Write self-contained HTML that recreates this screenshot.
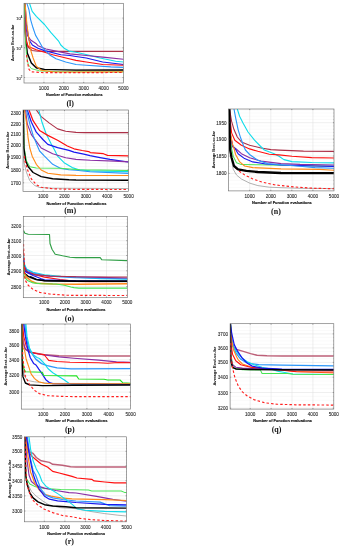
<!DOCTYPE html>
<html><head><meta charset="utf-8"><title>Convergence curves</title>
<style>
html,body{margin:0;padding:0;background:#fff;}
body{width:343px;height:550px;overflow:hidden;}
svg{display:block;filter:blur(0.3px);}
.t{font-family:"Liberation Sans",sans-serif;font-size:5px;fill:#2a2a2a;stroke:#2a2a2a;stroke-width:0.1;}
.b{font-family:"Liberation Sans",sans-serif;font-size:4.4px;font-weight:bold;fill:#141414;stroke:#141414;stroke-width:0.16;}
.c{font-family:"Liberation Serif",serif;font-size:8px;font-weight:bold;fill:#111;}
.g{stroke:#dedede;stroke-width:0.5;fill:none;}
.m{stroke:#f3f3f3;stroke-width:0.4;fill:none;}
.ax{stroke:#707070;stroke-width:0.65;fill:none;}
.k{stroke:#5a5a5a;stroke-width:0.5;fill:none;}
polyline{fill:none;stroke-linejoin:round;stroke-linecap:butt;}
</style></head><body>
<svg width="343" height="550" viewBox="0 0 343 550">
<rect x="0" y="0" width="343" height="550" fill="#ffffff"/>

<g>
<clipPath id="cp1"><rect x="24.0" y="3.3" width="99.5" height="79.7"/></clipPath>
<line class="m" x1="24.0" y1="82.1" x2="123.5" y2="82.1"/>
<line class="k" x1="123.5" y1="82.1" x2="122.9" y2="82.1" stroke-opacity="0.6"/>
<line class="m" x1="24.0" y1="80.4" x2="123.5" y2="80.4"/>
<line class="k" x1="123.5" y1="80.4" x2="122.9" y2="80.4" stroke-opacity="0.6"/>
<line class="m" x1="24.0" y1="78.9" x2="123.5" y2="78.9"/>
<line class="k" x1="123.5" y1="78.9" x2="122.9" y2="78.9" stroke-opacity="0.6"/>
<line class="m" x1="24.0" y1="68.6" x2="123.5" y2="68.6"/>
<line class="k" x1="123.5" y1="68.6" x2="122.9" y2="68.6" stroke-opacity="0.6"/>
<line class="m" x1="24.0" y1="63.3" x2="123.5" y2="63.3"/>
<line class="k" x1="123.5" y1="63.3" x2="122.9" y2="63.3" stroke-opacity="0.6"/>
<line class="m" x1="24.0" y1="59.6" x2="123.5" y2="59.6"/>
<line class="k" x1="123.5" y1="59.6" x2="122.9" y2="59.6" stroke-opacity="0.6"/>
<line class="m" x1="24.0" y1="56.7" x2="123.5" y2="56.7"/>
<line class="k" x1="123.5" y1="56.7" x2="122.9" y2="56.7" stroke-opacity="0.6"/>
<line class="m" x1="24.0" y1="54.4" x2="123.5" y2="54.4"/>
<line class="k" x1="123.5" y1="54.4" x2="122.9" y2="54.4" stroke-opacity="0.6"/>
<line class="m" x1="24.0" y1="52.4" x2="123.5" y2="52.4"/>
<line class="k" x1="123.5" y1="52.4" x2="122.9" y2="52.4" stroke-opacity="0.6"/>
<line class="m" x1="24.0" y1="50.7" x2="123.5" y2="50.7"/>
<line class="k" x1="123.5" y1="50.7" x2="122.9" y2="50.7" stroke-opacity="0.6"/>
<line class="m" x1="24.0" y1="49.2" x2="123.5" y2="49.2"/>
<line class="k" x1="123.5" y1="49.2" x2="122.9" y2="49.2" stroke-opacity="0.6"/>
<line class="m" x1="24.0" y1="38.9" x2="123.5" y2="38.9"/>
<line class="k" x1="123.5" y1="38.9" x2="122.9" y2="38.9" stroke-opacity="0.6"/>
<line class="m" x1="24.0" y1="33.6" x2="123.5" y2="33.6"/>
<line class="k" x1="123.5" y1="33.6" x2="122.9" y2="33.6" stroke-opacity="0.6"/>
<line class="m" x1="24.0" y1="29.9" x2="123.5" y2="29.9"/>
<line class="k" x1="123.5" y1="29.9" x2="122.9" y2="29.9" stroke-opacity="0.6"/>
<line class="m" x1="24.0" y1="27.0" x2="123.5" y2="27.0"/>
<line class="k" x1="123.5" y1="27.0" x2="122.9" y2="27.0" stroke-opacity="0.6"/>
<line class="m" x1="24.0" y1="24.7" x2="123.5" y2="24.7"/>
<line class="k" x1="123.5" y1="24.7" x2="122.9" y2="24.7" stroke-opacity="0.6"/>
<line class="m" x1="24.0" y1="22.7" x2="123.5" y2="22.7"/>
<line class="k" x1="123.5" y1="22.7" x2="122.9" y2="22.7" stroke-opacity="0.6"/>
<line class="m" x1="24.0" y1="21.0" x2="123.5" y2="21.0"/>
<line class="k" x1="123.5" y1="21.0" x2="122.9" y2="21.0" stroke-opacity="0.6"/>
<line class="m" x1="24.0" y1="19.5" x2="123.5" y2="19.5"/>
<line class="k" x1="123.5" y1="19.5" x2="122.9" y2="19.5" stroke-opacity="0.6"/>
<line class="m" x1="24.0" y1="9.2" x2="123.5" y2="9.2"/>
<line class="k" x1="123.5" y1="9.2" x2="122.9" y2="9.2" stroke-opacity="0.6"/>
<line class="g" x1="43.9" y1="3.3" x2="43.9" y2="83.0"/>
<line class="g" x1="63.8" y1="3.3" x2="63.8" y2="83.0"/>
<line class="g" x1="83.7" y1="3.3" x2="83.7" y2="83.0"/>
<line class="g" x1="103.6" y1="3.3" x2="103.6" y2="83.0"/>
<line class="g" x1="24.0" y1="18.1" x2="123.5" y2="18.1"/>
<line class="g" x1="24.0" y1="47.8" x2="123.5" y2="47.8"/>
<line class="g" x1="24.0" y1="77.5" x2="123.5" y2="77.5"/>
<g clip-path="url(#cp1)">
<polyline stroke="#8a8a8a" stroke-width="0.67" points="24.3,3.0 25.0,30.0 27.5,55.0 31.5,64.0 36.5,68.5 45.0,69.8 123.5,70.2"/>
<polyline stroke="#000000" stroke-width="1.38" points="24.4,3.0 25.0,25.0 25.8,40.0 27.3,53.0 31.4,62.9 36.3,67.8 44.5,69.4 76.0,70.1 123.5,70.0"/>
<polyline stroke="#ac3048" stroke-width="1.12" points="24.5,3.0 25.0,20.0 26.0,38.0 28.0,47.0 32.0,50.5 38.0,51.3 50.0,51.4 123.5,51.4"/>
<polyline stroke="#10dcea" stroke-width="1.12" points="29.5,3.3 32.2,11.4 36.3,16.3 44.5,24.5 51.0,32.7 58.4,40.8 60.8,45.0 64.1,48.2 69.0,51.1 76.0,52.3 86.0,54.5 100.0,58.0 115.7,61.2 123.5,62.0"/>
<polyline stroke="#8a2ea4" stroke-width="1.12" points="24.6,3.0 25.5,25.0 27.3,35.1 30.6,40.0 36.3,43.8 38.0,45.7 46.0,49.0 56.0,51.1 70.0,53.9 86.3,55.5 102.7,57.1 123.5,59.3"/>
<polyline stroke="#1818f0" stroke-width="1.12" points="25.0,3.0 26.5,25.0 29.0,40.0 32.3,44.9 38.0,48.2 44.5,50.6 60.8,54.7 70.0,55.5 76.0,56.5 86.3,58.0 102.7,62.0 123.5,64.5"/>
<polyline stroke="#ff1010" stroke-width="1.12" points="24.5,3.0 25.0,25.0 25.8,40.0 28.2,46.5 36.3,49.8 52.7,54.7 69.0,58.8 76.0,60.4 86.3,62.0 102.7,64.5 123.5,65.3"/>
<polyline stroke="#2c96fa" stroke-width="1.12" points="26.9,3.3 29.0,9.8 30.6,19.6 33.0,27.8 35.5,35.1 38.8,40.8 43.0,48.2 49.4,54.7 56.0,58.8 65.7,62.0 76.0,64.5 86.3,65.3 110.8,66.9 123.5,67.4"/>
<polyline stroke="#48e455" stroke-width="0.9" points="24.3,3.0 24.8,30.0 26.5,54.7 28.2,64.5 31.4,68.6 39.6,70.9 60.0,71.8 123.5,72.0"/>
<polyline stroke="#ff8a18" stroke-width="1.12" points="25.0,3.0 27.0,25.0 29.0,40.0 30.6,49.8 33.1,58.0 36.3,66.1 41.2,70.2 52.7,71.8 76.0,72.0 123.5,71.8"/>
<polyline stroke="#ff2020" stroke-width="1.16" stroke-dasharray="2.5 2.1" points="26.6,55.0 27.3,61.2 29.0,69.4 31.4,71.8 44.5,72.7 123.5,72.5"/>
</g>
<rect class="ax" x="24.0" y="3.3" width="99.5" height="79.7"/>
<line class="k" x1="43.9" y1="83.0" x2="43.9" y2="81.9"/>
<line class="k" x1="43.9" y1="3.3" x2="43.9" y2="4.4"/>
<text class="t" text-anchor="middle" x="43.9" y="89.8" textLength="10.3" lengthAdjust="spacingAndGlyphs">1000</text>
<line class="k" x1="63.8" y1="83.0" x2="63.8" y2="81.9"/>
<line class="k" x1="63.8" y1="3.3" x2="63.8" y2="4.4"/>
<text class="t" text-anchor="middle" x="63.8" y="89.8" textLength="10.3" lengthAdjust="spacingAndGlyphs">2000</text>
<line class="k" x1="83.7" y1="83.0" x2="83.7" y2="81.9"/>
<line class="k" x1="83.7" y1="3.3" x2="83.7" y2="4.4"/>
<text class="t" text-anchor="middle" x="83.7" y="89.8" textLength="10.3" lengthAdjust="spacingAndGlyphs">3000</text>
<line class="k" x1="103.6" y1="83.0" x2="103.6" y2="81.9"/>
<line class="k" x1="103.6" y1="3.3" x2="103.6" y2="4.4"/>
<text class="t" text-anchor="middle" x="103.6" y="89.8" textLength="10.3" lengthAdjust="spacingAndGlyphs">4000</text>
<text class="t" text-anchor="middle" x="123.5" y="89.8" textLength="10.3" lengthAdjust="spacingAndGlyphs">5000</text>
<line class="k" x1="24.0" y1="18.1" x2="25.1" y2="18.1"/>
<line class="k" x1="123.5" y1="18.1" x2="122.4" y2="18.1"/>
<text class="t" style="font-size:3.9px" x="16.3" y="20.1">10<tspan dy="-1.9" style="font-size:2.8px">4</tspan></text>
<line class="k" x1="24.0" y1="47.8" x2="25.1" y2="47.8"/>
<line class="k" x1="123.5" y1="47.8" x2="122.4" y2="47.8"/>
<text class="t" style="font-size:3.9px" x="16.3" y="49.8">10<tspan dy="-1.9" style="font-size:2.8px">3</tspan></text>
<line class="k" x1="24.0" y1="77.5" x2="25.1" y2="77.5"/>
<line class="k" x1="123.5" y1="77.5" x2="122.4" y2="77.5"/>
<text class="t" style="font-size:3.9px" x="16.3" y="79.5">10<tspan dy="-1.9" style="font-size:2.8px">2</tspan></text>
<text class="b" text-anchor="middle" x="74.3" y="96.0" textLength="56.4" lengthAdjust="spacingAndGlyphs">Number of Function evaluations</text>
<text class="b" style="stroke-width:0.04" text-anchor="middle" x="14.1" y="42.8" transform="rotate(-90 14.1 42.8)" textLength="36.3" lengthAdjust="spacingAndGlyphs">Average Best-so-far</text>
<text class="c" text-anchor="middle" x="70.2" y="106.2">(l)</text>
</g>
<g>
<clipPath id="cp2"><rect x="23.0" y="110.0" width="105.6" height="81.5"/></clipPath>
<line class="m" x1="23.0" y1="189.7" x2="128.6" y2="189.7"/>
<line class="k" x1="128.6" y1="189.7" x2="128.0" y2="189.7" stroke-opacity="0.6"/>
<line class="m" x1="23.0" y1="186.2" x2="128.6" y2="186.2"/>
<line class="k" x1="128.6" y1="186.2" x2="128.0" y2="186.2" stroke-opacity="0.6"/>
<line class="m" x1="23.0" y1="179.5" x2="128.6" y2="179.5"/>
<line class="k" x1="128.6" y1="179.5" x2="128.0" y2="179.5" stroke-opacity="0.6"/>
<line class="m" x1="23.0" y1="176.2" x2="128.6" y2="176.2"/>
<line class="k" x1="128.6" y1="176.2" x2="128.0" y2="176.2" stroke-opacity="0.6"/>
<line class="m" x1="23.0" y1="172.9" x2="128.6" y2="172.9"/>
<line class="k" x1="128.6" y1="172.9" x2="128.0" y2="172.9" stroke-opacity="0.6"/>
<line class="m" x1="23.0" y1="166.5" x2="128.6" y2="166.5"/>
<line class="k" x1="128.6" y1="166.5" x2="128.0" y2="166.5" stroke-opacity="0.6"/>
<line class="m" x1="23.0" y1="163.4" x2="128.6" y2="163.4"/>
<line class="k" x1="128.6" y1="163.4" x2="128.0" y2="163.4" stroke-opacity="0.6"/>
<line class="m" x1="23.0" y1="160.3" x2="128.6" y2="160.3"/>
<line class="k" x1="128.6" y1="160.3" x2="128.0" y2="160.3" stroke-opacity="0.6"/>
<line class="m" x1="23.0" y1="154.2" x2="128.6" y2="154.2"/>
<line class="k" x1="128.6" y1="154.2" x2="128.0" y2="154.2" stroke-opacity="0.6"/>
<line class="m" x1="23.0" y1="151.3" x2="128.6" y2="151.3"/>
<line class="k" x1="128.6" y1="151.3" x2="128.0" y2="151.3" stroke-opacity="0.6"/>
<line class="m" x1="23.0" y1="148.3" x2="128.6" y2="148.3"/>
<line class="k" x1="128.6" y1="148.3" x2="128.0" y2="148.3" stroke-opacity="0.6"/>
<line class="m" x1="23.0" y1="142.6" x2="128.6" y2="142.6"/>
<line class="k" x1="128.6" y1="142.6" x2="128.0" y2="142.6" stroke-opacity="0.6"/>
<line class="m" x1="23.0" y1="139.8" x2="128.6" y2="139.8"/>
<line class="k" x1="128.6" y1="139.8" x2="128.0" y2="139.8" stroke-opacity="0.6"/>
<line class="m" x1="23.0" y1="137.0" x2="128.6" y2="137.0"/>
<line class="k" x1="128.6" y1="137.0" x2="128.0" y2="137.0" stroke-opacity="0.6"/>
<line class="m" x1="23.0" y1="131.5" x2="128.6" y2="131.5"/>
<line class="k" x1="128.6" y1="131.5" x2="128.0" y2="131.5" stroke-opacity="0.6"/>
<line class="m" x1="23.0" y1="128.8" x2="128.6" y2="128.8"/>
<line class="k" x1="128.6" y1="128.8" x2="128.0" y2="128.8" stroke-opacity="0.6"/>
<line class="m" x1="23.0" y1="126.2" x2="128.6" y2="126.2"/>
<line class="k" x1="128.6" y1="126.2" x2="128.0" y2="126.2" stroke-opacity="0.6"/>
<line class="m" x1="23.0" y1="120.9" x2="128.6" y2="120.9"/>
<line class="k" x1="128.6" y1="120.9" x2="128.0" y2="120.9" stroke-opacity="0.6"/>
<line class="m" x1="23.0" y1="118.4" x2="128.6" y2="118.4"/>
<line class="k" x1="128.6" y1="118.4" x2="128.0" y2="118.4" stroke-opacity="0.6"/>
<line class="m" x1="23.0" y1="115.8" x2="128.6" y2="115.8"/>
<line class="k" x1="128.6" y1="115.8" x2="128.0" y2="115.8" stroke-opacity="0.6"/>
<line class="m" x1="23.0" y1="110.8" x2="128.6" y2="110.8"/>
<line class="k" x1="128.6" y1="110.8" x2="128.0" y2="110.8" stroke-opacity="0.6"/>
<line class="g" x1="43.1" y1="110.0" x2="43.1" y2="191.5"/>
<line class="g" x1="64.5" y1="110.0" x2="64.5" y2="191.5"/>
<line class="g" x1="85.8" y1="110.0" x2="85.8" y2="191.5"/>
<line class="g" x1="107.2" y1="110.0" x2="107.2" y2="191.5"/>
<line class="g" x1="23.0" y1="113.3" x2="128.6" y2="113.3"/>
<line class="g" x1="23.0" y1="123.5" x2="128.6" y2="123.5"/>
<line class="g" x1="23.0" y1="134.2" x2="128.6" y2="134.2"/>
<line class="g" x1="23.0" y1="145.4" x2="128.6" y2="145.4"/>
<line class="g" x1="23.0" y1="157.2" x2="128.6" y2="157.2"/>
<line class="g" x1="23.0" y1="169.7" x2="128.6" y2="169.7"/>
<line class="g" x1="23.0" y1="182.8" x2="128.6" y2="182.8"/>
<g clip-path="url(#cp2)">
<polyline stroke="#8a8a8a" stroke-width="0.67" points="23.3,110.0 23.6,161.0 26.5,172.5 29.8,180.7 34.7,185.5 39.6,187.5 52.7,188.2 128.6,188.5"/>
<polyline stroke="#ac3048" stroke-width="1.12" points="36.3,110.0 41.2,116.6 49.4,123.1 57.6,128.9 65.7,131.3 76.0,132.4 85.0,132.6 128.6,132.6"/>
<polyline stroke="#10dcea" stroke-width="1.12" points="38.8,110.0 42.0,122.3 46.1,133.8 51.0,143.6 55.1,151.0 57.6,156.2 64.1,162.7 72.2,167.6 78.9,169.8 90.3,170.9 128.6,171.6"/>
<polyline stroke="#ff1010" stroke-width="1.23" points="29.0,110.0 33.1,120.7 39.6,130.5 47.8,135.4 57.6,140.3 67.3,146.0 74.0,148.8 82.2,150.5 88.7,151.6 90.3,152.6 103.4,153.7 107.5,155.4 128.6,155.9"/>
<polyline stroke="#1818f0" stroke-width="1.23" points="27.3,110.0 31.4,122.3 36.3,132.1 42.9,139.5 47.8,144.4 57.6,147.6 69.0,150.4 74.0,152.1 83.8,154.2 90.0,155.6 100.0,157.6 110.0,159.4 120.0,160.9 128.6,162.0"/>
<polyline stroke="#8a2ea4" stroke-width="1.12" points="25.5,110.0 27.3,124.0 31.4,134.6 38.0,143.6 41.2,148.0 52.7,153.7 65.7,157.8 76.0,159.4 90.3,160.3 114.8,161.1 128.6,161.9"/>
<polyline stroke="#2c96fa" stroke-width="1.12" points="26.5,110.0 29.8,124.0 33.1,135.4 37.1,145.2 39.6,151.0 44.5,156.2 52.7,164.3 60.8,168.4 69.0,169.7 76.0,170.3 90.0,171.8 128.6,173.4"/>
<polyline stroke="#48e455" stroke-width="1.01" points="23.5,110.0 24.2,148.0 26.5,161.0 29.8,166.8 36.3,167.9 60.0,168.3 80.0,169.8 100.0,170.1 128.6,170.6"/>
<polyline stroke="#ff8a18" stroke-width="1.12" points="24.4,110.0 26.5,122.3 28.2,138.7 29.8,148.0 32.2,156.2 36.3,164.3 41.2,170.0 47.8,173.3 60.8,174.9 76.0,175.4 128.6,175.5"/>
<polyline stroke="#000000" stroke-width="1.38" points="23.4,110.0 23.9,148.0 25.7,161.0 28.2,166.8 33.1,172.5 41.2,176.6 52.7,178.7 69.0,179.8 76.0,180.0 128.6,180.3"/>
<polyline stroke="#ff2020" stroke-width="1.16" stroke-dasharray="2.5 2.1" points="24.4,156.0 24.9,161.0 27.3,169.2 31.4,179.0 36.3,184.7 41.2,187.2 52.7,188.8 76.0,189.4 128.6,189.5"/>
</g>
<rect class="ax" x="23.0" y="110.0" width="105.6" height="81.5"/>
<line class="k" x1="43.1" y1="191.5" x2="43.1" y2="190.4"/>
<line class="k" x1="43.1" y1="110.0" x2="43.1" y2="111.1"/>
<text class="t" text-anchor="middle" x="43.1" y="198.2" textLength="10.3" lengthAdjust="spacingAndGlyphs">1000</text>
<line class="k" x1="64.5" y1="191.5" x2="64.5" y2="190.4"/>
<line class="k" x1="64.5" y1="110.0" x2="64.5" y2="111.1"/>
<text class="t" text-anchor="middle" x="64.5" y="198.2" textLength="10.3" lengthAdjust="spacingAndGlyphs">2000</text>
<line class="k" x1="85.8" y1="191.5" x2="85.8" y2="190.4"/>
<line class="k" x1="85.8" y1="110.0" x2="85.8" y2="111.1"/>
<text class="t" text-anchor="middle" x="85.8" y="198.2" textLength="10.3" lengthAdjust="spacingAndGlyphs">3000</text>
<line class="k" x1="107.2" y1="191.5" x2="107.2" y2="190.4"/>
<line class="k" x1="107.2" y1="110.0" x2="107.2" y2="111.1"/>
<text class="t" text-anchor="middle" x="107.2" y="198.2" textLength="10.3" lengthAdjust="spacingAndGlyphs">4000</text>
<text class="t" text-anchor="middle" x="128.6" y="198.2" textLength="10.3" lengthAdjust="spacingAndGlyphs">5000</text>
<line class="k" x1="23.0" y1="113.3" x2="24.1" y2="113.3"/>
<line class="k" x1="128.6" y1="113.3" x2="127.5" y2="113.3"/>
<text class="t" text-anchor="end" x="20.9" y="115.3" textLength="10.2" lengthAdjust="spacingAndGlyphs">2300</text>
<line class="k" x1="23.0" y1="123.5" x2="24.1" y2="123.5"/>
<line class="k" x1="128.6" y1="123.5" x2="127.5" y2="123.5"/>
<text class="t" text-anchor="end" x="20.9" y="125.5" textLength="10.2" lengthAdjust="spacingAndGlyphs">2200</text>
<line class="k" x1="23.0" y1="134.2" x2="24.1" y2="134.2"/>
<line class="k" x1="128.6" y1="134.2" x2="127.5" y2="134.2"/>
<text class="t" text-anchor="end" x="20.9" y="136.2" textLength="10.2" lengthAdjust="spacingAndGlyphs">2100</text>
<line class="k" x1="23.0" y1="145.4" x2="24.1" y2="145.4"/>
<line class="k" x1="128.6" y1="145.4" x2="127.5" y2="145.4"/>
<text class="t" text-anchor="end" x="20.9" y="147.4" textLength="10.2" lengthAdjust="spacingAndGlyphs">2000</text>
<line class="k" x1="23.0" y1="157.2" x2="24.1" y2="157.2"/>
<line class="k" x1="128.6" y1="157.2" x2="127.5" y2="157.2"/>
<text class="t" text-anchor="end" x="20.9" y="159.2" textLength="10.2" lengthAdjust="spacingAndGlyphs">1900</text>
<line class="k" x1="23.0" y1="169.7" x2="24.1" y2="169.7"/>
<line class="k" x1="128.6" y1="169.7" x2="127.5" y2="169.7"/>
<text class="t" text-anchor="end" x="20.9" y="171.7" textLength="10.2" lengthAdjust="spacingAndGlyphs">1800</text>
<line class="k" x1="23.0" y1="182.8" x2="24.1" y2="182.8"/>
<line class="k" x1="128.6" y1="182.8" x2="127.5" y2="182.8"/>
<text class="t" text-anchor="end" x="20.9" y="184.8" textLength="10.2" lengthAdjust="spacingAndGlyphs">1700</text>
<text class="b" text-anchor="middle" x="76.4" y="204.5" textLength="59.9" lengthAdjust="spacingAndGlyphs">Number of Function evaluations</text>
<text class="b" style="stroke-width:0.04" text-anchor="middle" x="9.0" y="150.3" transform="rotate(-90 9.0 150.3)" textLength="37.1" lengthAdjust="spacingAndGlyphs">Average Best-so-far</text>
<text class="c" text-anchor="middle" x="70.2" y="213.2">(m)</text>
</g>
<g>
<clipPath id="cp3"><rect x="228.6" y="109.0" width="105.4" height="81.9"/></clipPath>
<line class="m" x1="228.6" y1="187.6" x2="334.0" y2="187.6"/>
<line class="k" x1="334.0" y1="187.6" x2="333.4" y2="187.6" stroke-opacity="0.6"/>
<line class="m" x1="228.6" y1="184.0" x2="334.0" y2="184.0"/>
<line class="k" x1="334.0" y1="184.0" x2="333.4" y2="184.0" stroke-opacity="0.6"/>
<line class="m" x1="228.6" y1="180.4" x2="334.0" y2="180.4"/>
<line class="k" x1="334.0" y1="180.4" x2="333.4" y2="180.4" stroke-opacity="0.6"/>
<line class="m" x1="228.6" y1="176.9" x2="334.0" y2="176.9"/>
<line class="k" x1="334.0" y1="176.9" x2="333.4" y2="176.9" stroke-opacity="0.6"/>
<line class="m" x1="228.6" y1="169.9" x2="334.0" y2="169.9"/>
<line class="k" x1="334.0" y1="169.9" x2="333.4" y2="169.9" stroke-opacity="0.6"/>
<line class="m" x1="228.6" y1="166.4" x2="334.0" y2="166.4"/>
<line class="k" x1="334.0" y1="166.4" x2="333.4" y2="166.4" stroke-opacity="0.6"/>
<line class="m" x1="228.6" y1="162.9" x2="334.0" y2="162.9"/>
<line class="k" x1="334.0" y1="162.9" x2="333.4" y2="162.9" stroke-opacity="0.6"/>
<line class="m" x1="228.6" y1="159.5" x2="334.0" y2="159.5"/>
<line class="k" x1="334.0" y1="159.5" x2="333.4" y2="159.5" stroke-opacity="0.6"/>
<line class="m" x1="228.6" y1="152.6" x2="334.0" y2="152.6"/>
<line class="k" x1="334.0" y1="152.6" x2="333.4" y2="152.6" stroke-opacity="0.6"/>
<line class="m" x1="228.6" y1="149.2" x2="334.0" y2="149.2"/>
<line class="k" x1="334.0" y1="149.2" x2="333.4" y2="149.2" stroke-opacity="0.6"/>
<line class="m" x1="228.6" y1="145.8" x2="334.0" y2="145.8"/>
<line class="k" x1="334.0" y1="145.8" x2="333.4" y2="145.8" stroke-opacity="0.6"/>
<line class="m" x1="228.6" y1="142.5" x2="334.0" y2="142.5"/>
<line class="k" x1="334.0" y1="142.5" x2="333.4" y2="142.5" stroke-opacity="0.6"/>
<line class="m" x1="228.6" y1="135.8" x2="334.0" y2="135.8"/>
<line class="k" x1="334.0" y1="135.8" x2="333.4" y2="135.8" stroke-opacity="0.6"/>
<line class="m" x1="228.6" y1="132.5" x2="334.0" y2="132.5"/>
<line class="k" x1="334.0" y1="132.5" x2="333.4" y2="132.5" stroke-opacity="0.6"/>
<line class="m" x1="228.6" y1="129.2" x2="334.0" y2="129.2"/>
<line class="k" x1="334.0" y1="129.2" x2="333.4" y2="129.2" stroke-opacity="0.6"/>
<line class="m" x1="228.6" y1="126.0" x2="334.0" y2="126.0"/>
<line class="k" x1="334.0" y1="126.0" x2="333.4" y2="126.0" stroke-opacity="0.6"/>
<line class="m" x1="228.6" y1="119.5" x2="334.0" y2="119.5"/>
<line class="k" x1="334.0" y1="119.5" x2="333.4" y2="119.5" stroke-opacity="0.6"/>
<line class="m" x1="228.6" y1="116.2" x2="334.0" y2="116.2"/>
<line class="k" x1="334.0" y1="116.2" x2="333.4" y2="116.2" stroke-opacity="0.6"/>
<line class="m" x1="228.6" y1="113.0" x2="334.0" y2="113.0"/>
<line class="k" x1="334.0" y1="113.0" x2="333.4" y2="113.0" stroke-opacity="0.6"/>
<line class="m" x1="228.6" y1="109.8" x2="334.0" y2="109.8"/>
<line class="k" x1="334.0" y1="109.8" x2="333.4" y2="109.8" stroke-opacity="0.6"/>
<line class="g" x1="249.7" y1="109.0" x2="249.7" y2="190.9"/>
<line class="g" x1="270.8" y1="109.0" x2="270.8" y2="190.9"/>
<line class="g" x1="291.8" y1="109.0" x2="291.8" y2="190.9"/>
<line class="g" x1="312.9" y1="109.0" x2="312.9" y2="190.9"/>
<line class="g" x1="228.6" y1="122.7" x2="334.0" y2="122.7"/>
<line class="g" x1="228.6" y1="139.1" x2="334.0" y2="139.1"/>
<line class="g" x1="228.6" y1="156.0" x2="334.0" y2="156.0"/>
<line class="g" x1="228.6" y1="173.4" x2="334.0" y2="173.4"/>
<g clip-path="url(#cp3)">
<polyline stroke="#8a8a8a" stroke-width="0.67" points="229.0,109.0 229.8,150.0 233.2,169.2 236.5,175.0 241.4,179.0 249.6,183.1 257.8,185.6 269.3,187.2 281.0,187.7 300.0,188.3 334.0,188.6"/>
<polyline stroke="#ac3048" stroke-width="1.12" points="229.5,109.0 231.6,121.4 234.0,129.6 237.3,137.0 241.4,141.9 249.6,145.2 261.0,148.0 270.9,149.6 279.0,150.1 303.5,151.1 334.0,151.4"/>
<polyline stroke="#10dcea" stroke-width="1.12" points="237.3,109.0 239.7,116.5 243.0,123.0 248.0,132.0 254.5,140.2 260.2,146.0 264.3,150.0 274.2,153.7 279.0,156.3 283.9,159.6 292.0,161.6 311.7,162.5 334.0,162.9"/>
<polyline stroke="#ff1010" stroke-width="1.12" points="229.3,109.0 230.3,121.4 231.6,132.9 234.8,140.2 241.4,145.2 249.6,148.9 257.8,151.3 269.3,154.2 279.0,154.9 292.0,156.3 311.7,157.6 334.0,158.0"/>
<polyline stroke="#48e455" stroke-width="1.01" points="229.0,109.0 229.8,135.0 231.5,148.0 233.2,156.2 236.5,162.7 241.4,164.6 257.8,164.8 281.0,165.3 334.0,166.2"/>
<polyline stroke="#8a2ea4" stroke-width="1.12" points="229.2,109.0 230.5,135.0 233.2,147.6 235.6,148.5 241.4,153.7 249.6,157.8 261.0,161.1 281.0,163.6 300.0,164.4 334.0,165.0"/>
<polyline stroke="#1818f0" stroke-width="1.12" points="229.2,109.0 230.3,135.0 232.5,146.0 234.8,148.0 238.1,153.7 244.6,158.6 252.8,161.9 265.8,164.0 281.0,165.0 300.0,165.6 315.0,166.0 334.0,166.4"/>
<polyline stroke="#2c96fa" stroke-width="1.12" points="234.0,109.0 235.7,118.1 238.1,129.6 240.6,137.8 243.9,146.8 245.4,150.0 249.6,154.5 257.8,160.3 267.6,163.6 281.0,164.8 300.0,166.2 315.0,167.6 334.0,168.3"/>
<polyline stroke="#ff8a18" stroke-width="1.12" points="229.2,109.0 230.0,129.6 232.4,144.3 234.0,148.0 235.6,154.5 239.7,161.9 244.6,166.0 252.8,167.6 281.0,168.9 319.8,169.4 334.0,170.2"/>
<polyline stroke="#ff2020" stroke-width="1.16" stroke-dasharray="2.5 2.1" points="235.5,168.0 238.9,170.9 244.7,175.0 252.9,179.0 262.7,182.3 274.2,184.7 281.0,185.6 295.4,187.0 311.8,188.2 334.0,188.7"/>
<polyline stroke="#000000" stroke-width="2.3" points="229.4,109.0 229.7,135.0 230.2,150.0 231.6,157.8 234.0,166.0 238.1,169.3 246.3,170.9 257.8,172.0 281.0,173.0 334.0,173.2"/>
</g>
<rect class="ax" x="228.6" y="109.0" width="105.4" height="81.9"/>
<line class="k" x1="249.7" y1="190.9" x2="249.7" y2="189.8"/>
<line class="k" x1="249.7" y1="109.0" x2="249.7" y2="110.1"/>
<text class="t" text-anchor="middle" x="249.7" y="197.7" textLength="10.3" lengthAdjust="spacingAndGlyphs">1000</text>
<line class="k" x1="270.8" y1="190.9" x2="270.8" y2="189.8"/>
<line class="k" x1="270.8" y1="109.0" x2="270.8" y2="110.1"/>
<text class="t" text-anchor="middle" x="270.8" y="197.7" textLength="10.3" lengthAdjust="spacingAndGlyphs">2000</text>
<line class="k" x1="291.8" y1="190.9" x2="291.8" y2="189.8"/>
<line class="k" x1="291.8" y1="109.0" x2="291.8" y2="110.1"/>
<text class="t" text-anchor="middle" x="291.8" y="197.7" textLength="10.3" lengthAdjust="spacingAndGlyphs">3000</text>
<line class="k" x1="312.9" y1="190.9" x2="312.9" y2="189.8"/>
<line class="k" x1="312.9" y1="109.0" x2="312.9" y2="110.1"/>
<text class="t" text-anchor="middle" x="312.9" y="197.7" textLength="10.3" lengthAdjust="spacingAndGlyphs">4000</text>
<text class="t" text-anchor="middle" x="334.0" y="197.7" textLength="10.3" lengthAdjust="spacingAndGlyphs">5000</text>
<line class="k" x1="228.6" y1="122.7" x2="229.7" y2="122.7"/>
<line class="k" x1="334.0" y1="122.7" x2="332.9" y2="122.7"/>
<text class="t" text-anchor="end" x="226.5" y="124.7" textLength="10.2" lengthAdjust="spacingAndGlyphs">1950</text>
<line class="k" x1="228.6" y1="139.1" x2="229.7" y2="139.1"/>
<line class="k" x1="334.0" y1="139.1" x2="332.9" y2="139.1"/>
<text class="t" text-anchor="end" x="226.5" y="141.1" textLength="10.2" lengthAdjust="spacingAndGlyphs">1900</text>
<line class="k" x1="228.6" y1="156.0" x2="229.7" y2="156.0"/>
<line class="k" x1="334.0" y1="156.0" x2="332.9" y2="156.0"/>
<text class="t" text-anchor="end" x="226.5" y="158.0" textLength="10.2" lengthAdjust="spacingAndGlyphs">1850</text>
<line class="k" x1="228.6" y1="173.4" x2="229.7" y2="173.4"/>
<line class="k" x1="334.0" y1="173.4" x2="332.9" y2="173.4"/>
<text class="t" text-anchor="end" x="226.5" y="175.4" textLength="10.2" lengthAdjust="spacingAndGlyphs">1800</text>
<text class="b" text-anchor="middle" x="281.9" y="203.9" textLength="59.8" lengthAdjust="spacingAndGlyphs">Number of Function evaluations</text>
<text class="b" style="stroke-width:0.04" text-anchor="middle" x="214.8" y="149.5" transform="rotate(-90 214.8 149.5)" textLength="37.3" lengthAdjust="spacingAndGlyphs">Average Best-so-far</text>
<text class="c" text-anchor="middle" x="276.0" y="213.7">(n)</text>
</g>
<g>
<clipPath id="cp4"><rect x="23.3" y="216.5" width="104.0" height="81.2"/></clipPath>
<line class="m" x1="23.3" y1="294.7" x2="127.3" y2="294.7"/>
<line class="k" x1="127.3" y1="294.7" x2="126.7" y2="294.7" stroke-opacity="0.6"/>
<line class="m" x1="23.3" y1="290.7" x2="127.3" y2="290.7"/>
<line class="k" x1="127.3" y1="290.7" x2="126.7" y2="290.7" stroke-opacity="0.6"/>
<line class="m" x1="23.3" y1="282.6" x2="127.3" y2="282.6"/>
<line class="k" x1="127.3" y1="282.6" x2="126.7" y2="282.6" stroke-opacity="0.6"/>
<line class="m" x1="23.3" y1="278.6" x2="127.3" y2="278.6"/>
<line class="k" x1="127.3" y1="278.6" x2="126.7" y2="278.6" stroke-opacity="0.6"/>
<line class="m" x1="23.3" y1="274.7" x2="127.3" y2="274.7"/>
<line class="k" x1="127.3" y1="274.7" x2="126.7" y2="274.7" stroke-opacity="0.6"/>
<line class="m" x1="23.3" y1="266.9" x2="127.3" y2="266.9"/>
<line class="k" x1="127.3" y1="266.9" x2="126.7" y2="266.9" stroke-opacity="0.6"/>
<line class="m" x1="23.3" y1="263.1" x2="127.3" y2="263.1"/>
<line class="k" x1="127.3" y1="263.1" x2="126.7" y2="263.1" stroke-opacity="0.6"/>
<line class="m" x1="23.3" y1="259.3" x2="127.3" y2="259.3"/>
<line class="k" x1="127.3" y1="259.3" x2="126.7" y2="259.3" stroke-opacity="0.6"/>
<line class="m" x1="23.3" y1="251.8" x2="127.3" y2="251.8"/>
<line class="k" x1="127.3" y1="251.8" x2="126.7" y2="251.8" stroke-opacity="0.6"/>
<line class="m" x1="23.3" y1="248.1" x2="127.3" y2="248.1"/>
<line class="k" x1="127.3" y1="248.1" x2="126.7" y2="248.1" stroke-opacity="0.6"/>
<line class="m" x1="23.3" y1="244.4" x2="127.3" y2="244.4"/>
<line class="k" x1="127.3" y1="244.4" x2="126.7" y2="244.4" stroke-opacity="0.6"/>
<line class="m" x1="23.3" y1="237.1" x2="127.3" y2="237.1"/>
<line class="k" x1="127.3" y1="237.1" x2="126.7" y2="237.1" stroke-opacity="0.6"/>
<line class="m" x1="23.3" y1="233.5" x2="127.3" y2="233.5"/>
<line class="k" x1="127.3" y1="233.5" x2="126.7" y2="233.5" stroke-opacity="0.6"/>
<line class="m" x1="23.3" y1="229.9" x2="127.3" y2="229.9"/>
<line class="k" x1="127.3" y1="229.9" x2="126.7" y2="229.9" stroke-opacity="0.6"/>
<line class="m" x1="23.3" y1="222.9" x2="127.3" y2="222.9"/>
<line class="k" x1="127.3" y1="222.9" x2="126.7" y2="222.9" stroke-opacity="0.6"/>
<line class="m" x1="23.3" y1="219.4" x2="127.3" y2="219.4"/>
<line class="k" x1="127.3" y1="219.4" x2="126.7" y2="219.4" stroke-opacity="0.6"/>
<line class="g" x1="44.1" y1="216.5" x2="44.1" y2="297.7"/>
<line class="g" x1="64.9" y1="216.5" x2="64.9" y2="297.7"/>
<line class="g" x1="85.7" y1="216.5" x2="85.7" y2="297.7"/>
<line class="g" x1="106.5" y1="216.5" x2="106.5" y2="297.7"/>
<line class="g" x1="23.3" y1="226.4" x2="127.3" y2="226.4"/>
<line class="g" x1="23.3" y1="240.7" x2="127.3" y2="240.7"/>
<line class="g" x1="23.3" y1="255.5" x2="127.3" y2="255.5"/>
<line class="g" x1="23.3" y1="270.8" x2="127.3" y2="270.8"/>
<line class="g" x1="23.3" y1="286.6" x2="127.3" y2="286.6"/>
<g clip-path="url(#cp4)">
<polyline stroke="#8a8a8a" stroke-width="0.67" points="23.4,262.0 24.1,273.9 29.8,278.0 36.4,280.0 50.0,281.2 127.3,281.8"/>
<polyline stroke="#2f9e45" stroke-width="1.12" points="23.5,230.4 24.9,233.3 28.2,234.2 49.5,234.5 50.0,243.5 52.0,249.2 55.2,254.2 62.6,255.8 70.0,257.2 76.0,257.6 100.2,257.6 101.9,259.8 127.3,260.6"/>
<polyline stroke="#ff1010" stroke-width="1.12" points="23.4,250.0 24.1,268.9 28.2,273.0 44.5,277.1 60.0,279.5 76.0,281.4 90.0,281.8 127.3,281.5"/>
<polyline stroke="#10dcea" stroke-width="1.12" points="23.4,255.0 24.1,263.2 26.5,268.9 33.1,272.2 44.5,274.7 60.9,276.3 76.0,277.3 100.0,278.6 127.3,279.3"/>
<polyline stroke="#2c96fa" stroke-width="1.12" points="23.4,256.0 24.1,264.5 26.5,270.0 33.1,273.0 44.5,275.5 60.9,277.0 76.0,277.8 127.3,278.8"/>
<polyline stroke="#8a2ea4" stroke-width="1.12" points="23.4,258.0 24.0,266.5 27.0,272.0 35.0,275.0 50.0,276.3 76.0,276.8 100.0,277.4 127.3,278.0"/>
<polyline stroke="#ac3048" stroke-width="1.01" points="23.4,258.0 24.0,266.0 27.0,271.5 35.0,274.5 50.0,276.0 76.0,276.8 127.3,277.1"/>
<polyline stroke="#1818f0" stroke-width="1.23" points="23.4,260.0 24.9,271.4 33.1,275.5 41.3,278.8 44.5,279.9 60.9,280.4 76.0,280.9 127.3,281.0"/>
<polyline stroke="#14145a" stroke-width="1.46" points="30.0,276.5 36.4,279.4 44.5,280.5 76.0,281.1 127.3,281.2"/>
<polyline stroke="#000000" stroke-width="1.38" points="23.4,262.0 24.1,273.0 28.2,276.3 36.4,279.6 44.5,280.7 76.0,281.2 127.3,281.3"/>
<polyline stroke="#ff8a18" stroke-width="1.46" points="23.4,262.0 24.1,273.0 26.5,277.1 31.5,281.2 36.4,283.2 52.8,284.0 76.0,284.3 127.3,283.8"/>
<polyline stroke="#48e455" stroke-width="1.12" points="23.4,263.0 24.1,276.3 27.4,280.4 33.1,282.9 41.3,283.7 56.0,284.0 64.3,285.3 70.8,287.0 74.0,287.6 78.9,288.1 127.3,288.1"/>
<polyline stroke="#ff2020" stroke-width="1.16" stroke-dasharray="2.5 2.1" points="23.5,244.0 24.9,279.6 28.2,285.3 33.1,289.4 39.7,292.4 49.5,294.0 65.9,295.2 76.0,295.4 127.3,295.5"/>
</g>
<rect class="ax" x="23.3" y="216.5" width="104.0" height="81.2"/>
<line class="k" x1="44.1" y1="297.7" x2="44.1" y2="296.6"/>
<line class="k" x1="44.1" y1="216.5" x2="44.1" y2="217.6"/>
<text class="t" text-anchor="middle" x="44.1" y="304.4" textLength="10.3" lengthAdjust="spacingAndGlyphs">1000</text>
<line class="k" x1="64.9" y1="297.7" x2="64.9" y2="296.6"/>
<line class="k" x1="64.9" y1="216.5" x2="64.9" y2="217.6"/>
<text class="t" text-anchor="middle" x="64.9" y="304.4" textLength="10.3" lengthAdjust="spacingAndGlyphs">2000</text>
<line class="k" x1="85.7" y1="297.7" x2="85.7" y2="296.6"/>
<line class="k" x1="85.7" y1="216.5" x2="85.7" y2="217.6"/>
<text class="t" text-anchor="middle" x="85.7" y="304.4" textLength="10.3" lengthAdjust="spacingAndGlyphs">3000</text>
<line class="k" x1="106.5" y1="297.7" x2="106.5" y2="296.6"/>
<line class="k" x1="106.5" y1="216.5" x2="106.5" y2="217.6"/>
<text class="t" text-anchor="middle" x="106.5" y="304.4" textLength="10.3" lengthAdjust="spacingAndGlyphs">4000</text>
<text class="t" text-anchor="middle" x="127.3" y="304.4" textLength="10.3" lengthAdjust="spacingAndGlyphs">5000</text>
<line class="k" x1="23.3" y1="226.4" x2="24.4" y2="226.4"/>
<line class="k" x1="127.3" y1="226.4" x2="126.2" y2="226.4"/>
<text class="t" text-anchor="end" x="21.2" y="228.4" textLength="10.2" lengthAdjust="spacingAndGlyphs">3200</text>
<line class="k" x1="23.3" y1="240.7" x2="24.4" y2="240.7"/>
<line class="k" x1="127.3" y1="240.7" x2="126.2" y2="240.7"/>
<text class="t" text-anchor="end" x="21.2" y="242.7" textLength="10.2" lengthAdjust="spacingAndGlyphs">3100</text>
<line class="k" x1="23.3" y1="255.5" x2="24.4" y2="255.5"/>
<line class="k" x1="127.3" y1="255.5" x2="126.2" y2="255.5"/>
<text class="t" text-anchor="end" x="21.2" y="257.5" textLength="10.2" lengthAdjust="spacingAndGlyphs">3000</text>
<line class="k" x1="23.3" y1="270.8" x2="24.4" y2="270.8"/>
<line class="k" x1="127.3" y1="270.8" x2="126.2" y2="270.8"/>
<text class="t" text-anchor="end" x="21.2" y="272.8" textLength="10.2" lengthAdjust="spacingAndGlyphs">2900</text>
<line class="k" x1="23.3" y1="286.6" x2="24.4" y2="286.6"/>
<line class="k" x1="127.3" y1="286.6" x2="126.2" y2="286.6"/>
<text class="t" text-anchor="end" x="21.2" y="288.6" textLength="10.2" lengthAdjust="spacingAndGlyphs">2800</text>
<text class="b" text-anchor="middle" x="75.9" y="310.7" textLength="59.0" lengthAdjust="spacingAndGlyphs">Number of Function evaluations</text>
<text class="b" style="stroke-width:0.04" text-anchor="middle" x="9.8" y="256.7" transform="rotate(-90 9.8 256.7)" textLength="36.9" lengthAdjust="spacingAndGlyphs">Average Best-so-far</text>
<text class="c" text-anchor="middle" x="69.5" y="320.7">(o)</text>
</g>
<g>
<clipPath id="cp5"><rect x="21.3" y="324.0" width="109.3" height="85.1"/></clipPath>
<line class="m" x1="21.3" y1="405.3" x2="130.6" y2="405.3"/>
<line class="k" x1="130.6" y1="405.3" x2="130.0" y2="405.3" stroke-opacity="0.6"/>
<line class="m" x1="21.3" y1="400.8" x2="130.6" y2="400.8"/>
<line class="k" x1="130.6" y1="400.8" x2="130.0" y2="400.8" stroke-opacity="0.6"/>
<line class="m" x1="21.3" y1="396.4" x2="130.6" y2="396.4"/>
<line class="k" x1="130.6" y1="396.4" x2="130.0" y2="396.4" stroke-opacity="0.6"/>
<line class="m" x1="21.3" y1="387.8" x2="130.6" y2="387.8"/>
<line class="k" x1="130.6" y1="387.8" x2="130.0" y2="387.8" stroke-opacity="0.6"/>
<line class="m" x1="21.3" y1="383.6" x2="130.6" y2="383.6"/>
<line class="k" x1="130.6" y1="383.6" x2="130.0" y2="383.6" stroke-opacity="0.6"/>
<line class="m" x1="21.3" y1="379.5" x2="130.6" y2="379.5"/>
<line class="k" x1="130.6" y1="379.5" x2="130.0" y2="379.5" stroke-opacity="0.6"/>
<line class="m" x1="21.3" y1="371.4" x2="130.6" y2="371.4"/>
<line class="k" x1="130.6" y1="371.4" x2="130.0" y2="371.4" stroke-opacity="0.6"/>
<line class="m" x1="21.3" y1="367.5" x2="130.6" y2="367.5"/>
<line class="k" x1="130.6" y1="367.5" x2="130.0" y2="367.5" stroke-opacity="0.6"/>
<line class="m" x1="21.3" y1="363.6" x2="130.6" y2="363.6"/>
<line class="k" x1="130.6" y1="363.6" x2="130.0" y2="363.6" stroke-opacity="0.6"/>
<line class="m" x1="21.3" y1="356.0" x2="130.6" y2="356.0"/>
<line class="k" x1="130.6" y1="356.0" x2="130.0" y2="356.0" stroke-opacity="0.6"/>
<line class="m" x1="21.3" y1="352.3" x2="130.6" y2="352.3"/>
<line class="k" x1="130.6" y1="352.3" x2="130.0" y2="352.3" stroke-opacity="0.6"/>
<line class="m" x1="21.3" y1="348.7" x2="130.6" y2="348.7"/>
<line class="k" x1="130.6" y1="348.7" x2="130.0" y2="348.7" stroke-opacity="0.6"/>
<line class="m" x1="21.3" y1="341.5" x2="130.6" y2="341.5"/>
<line class="k" x1="130.6" y1="341.5" x2="130.0" y2="341.5" stroke-opacity="0.6"/>
<line class="m" x1="21.3" y1="338.0" x2="130.6" y2="338.0"/>
<line class="k" x1="130.6" y1="338.0" x2="130.0" y2="338.0" stroke-opacity="0.6"/>
<line class="m" x1="21.3" y1="334.5" x2="130.6" y2="334.5"/>
<line class="k" x1="130.6" y1="334.5" x2="130.0" y2="334.5" stroke-opacity="0.6"/>
<line class="m" x1="21.3" y1="327.7" x2="130.6" y2="327.7"/>
<line class="k" x1="130.6" y1="327.7" x2="130.0" y2="327.7" stroke-opacity="0.6"/>
<line class="g" x1="43.2" y1="324.0" x2="43.2" y2="409.1"/>
<line class="g" x1="65.0" y1="324.0" x2="65.0" y2="409.1"/>
<line class="g" x1="86.9" y1="324.0" x2="86.9" y2="409.1"/>
<line class="g" x1="108.7" y1="324.0" x2="108.7" y2="409.1"/>
<line class="g" x1="21.3" y1="331.1" x2="130.6" y2="331.1"/>
<line class="g" x1="21.3" y1="345.0" x2="130.6" y2="345.0"/>
<line class="g" x1="21.3" y1="359.8" x2="130.6" y2="359.8"/>
<line class="g" x1="21.3" y1="375.4" x2="130.6" y2="375.4"/>
<line class="g" x1="21.3" y1="392.1" x2="130.6" y2="392.1"/>
<g clip-path="url(#cp5)">
<polyline stroke="#8a8a8a" stroke-width="0.67" points="21.6,324.0 22.2,366.0 24.6,376.4 27.8,380.5 34.4,381.8 50.8,383.4 130.6,383.6"/>
<polyline stroke="#bd6078" stroke-width="1.46" points="21.8,324.0 23.0,340.0 24.6,347.9 29.5,352.0 42.6,354.4 59.0,355.7 74.0,356.0 130.6,356.0"/>
<polyline stroke="#8a2ea4" stroke-width="1.12" points="21.8,324.0 23.0,342.0 25.4,349.5 31.1,352.8 42.6,354.8 59.0,356.9 74.0,358.2 98.7,360.1 116.5,361.9 130.6,362.4"/>
<polyline stroke="#ff1010" stroke-width="1.12" points="22.6,324.0 23.7,336.4 26.2,346.2 30.3,352.0 37.7,353.8 44.2,354.6 46.0,357.0 48.7,360.4 57.0,361.5 70.0,362.2 84.0,362.5 98.7,362.8 107.6,363.3 118.3,362.5 130.6,362.8"/>
<polyline stroke="#2c96fa" stroke-width="1.34" points="24.9,324.0 26.2,336.4 28.7,347.9 31.9,353.6 36.0,359.4 41.6,363.6 47.2,365.7 57.0,367.8 71.0,368.8 130.6,368.7"/>
<polyline stroke="#10dcea" stroke-width="1.12" points="25.9,324.0 27.0,336.4 29.5,347.9 32.8,354.4 37.0,357.5 39.5,358.5 44.4,363.6 47.9,368.5 52.8,372.7 58.4,376.2 64.0,379.7 68.9,383.2 71.5,384.2 130.6,384.5"/>
<polyline stroke="#1818f0" stroke-width="1.23" points="23.7,324.0 25.4,336.4 27.8,349.5 30.3,357.7 33.6,363.4 36.0,365.0 38.8,369.2 42.3,374.1 45.8,379.7 49.3,382.5 52.8,383.6 130.6,384.3"/>
<polyline stroke="#22e222" stroke-width="1.12" points="21.8,324.0 22.5,360.0 23.7,368.2 25.4,371.8 42.3,372.3 43.7,375.5 76.6,375.9 78.7,379.0 104.0,379.2 107.6,380.0 120.0,380.0 122.7,382.7 130.6,383.3"/>
<polyline stroke="#ff8a18" stroke-width="1.12" points="22.0,324.0 22.9,347.9 24.6,350.3 26.2,359.3 27.8,364.0 28.7,366.6 31.1,373.9 34.4,378.4 36.0,379.7 38.8,381.8 44.4,383.2 54.1,383.7 130.6,383.8"/>
<polyline stroke="#000000" stroke-width="1.38" points="21.6,324.0 22.0,360.0 22.9,376.4 25.4,383.0 29.5,384.9 42.6,385.6 74.0,385.2 130.6,385.0"/>
<polyline stroke="#ff2020" stroke-width="1.16" stroke-dasharray="2.5 2.1" points="22.6,352.0 23.0,360.0 25.4,376.4 29.5,384.6 34.4,390.3 39.3,393.6 47.5,395.6 60.6,396.4 74.0,396.6 130.6,396.6"/>
</g>
<rect class="ax" x="21.3" y="324.0" width="109.3" height="85.1"/>
<line class="k" x1="43.2" y1="409.1" x2="43.2" y2="408.0"/>
<line class="k" x1="43.2" y1="324.0" x2="43.2" y2="325.1"/>
<text class="t" text-anchor="middle" x="43.2" y="415.9" textLength="10.3" lengthAdjust="spacingAndGlyphs">1000</text>
<line class="k" x1="65.0" y1="409.1" x2="65.0" y2="408.0"/>
<line class="k" x1="65.0" y1="324.0" x2="65.0" y2="325.1"/>
<text class="t" text-anchor="middle" x="65.0" y="415.9" textLength="10.3" lengthAdjust="spacingAndGlyphs">2000</text>
<line class="k" x1="86.9" y1="409.1" x2="86.9" y2="408.0"/>
<line class="k" x1="86.9" y1="324.0" x2="86.9" y2="325.1"/>
<text class="t" text-anchor="middle" x="86.9" y="415.9" textLength="10.3" lengthAdjust="spacingAndGlyphs">3000</text>
<line class="k" x1="108.7" y1="409.1" x2="108.7" y2="408.0"/>
<line class="k" x1="108.7" y1="324.0" x2="108.7" y2="325.1"/>
<text class="t" text-anchor="middle" x="108.7" y="415.9" textLength="10.3" lengthAdjust="spacingAndGlyphs">4000</text>
<text class="t" text-anchor="middle" x="130.6" y="415.9" textLength="10.3" lengthAdjust="spacingAndGlyphs">5000</text>
<line class="k" x1="21.3" y1="331.1" x2="22.4" y2="331.1"/>
<line class="k" x1="130.6" y1="331.1" x2="129.5" y2="331.1"/>
<text class="t" text-anchor="end" x="19.2" y="333.1" textLength="10.2" lengthAdjust="spacingAndGlyphs">3800</text>
<line class="k" x1="21.3" y1="345.0" x2="22.4" y2="345.0"/>
<line class="k" x1="130.6" y1="345.0" x2="129.5" y2="345.0"/>
<text class="t" text-anchor="end" x="19.2" y="347.0" textLength="10.2" lengthAdjust="spacingAndGlyphs">3600</text>
<line class="k" x1="21.3" y1="359.8" x2="22.4" y2="359.8"/>
<line class="k" x1="130.6" y1="359.8" x2="129.5" y2="359.8"/>
<text class="t" text-anchor="end" x="19.2" y="361.8" textLength="10.2" lengthAdjust="spacingAndGlyphs">3400</text>
<line class="k" x1="21.3" y1="375.4" x2="22.4" y2="375.4"/>
<line class="k" x1="130.6" y1="375.4" x2="129.5" y2="375.4"/>
<text class="t" text-anchor="end" x="19.2" y="377.4" textLength="10.2" lengthAdjust="spacingAndGlyphs">3200</text>
<line class="k" x1="21.3" y1="392.1" x2="22.4" y2="392.1"/>
<line class="k" x1="130.6" y1="392.1" x2="129.5" y2="392.1"/>
<text class="t" text-anchor="end" x="19.2" y="394.1" textLength="10.2" lengthAdjust="spacingAndGlyphs">3000</text>
<text class="b" text-anchor="middle" x="76.5" y="422.1" textLength="62.0" lengthAdjust="spacingAndGlyphs">Number of Function evaluations</text>
<text class="b" style="stroke-width:0.04" text-anchor="middle" x="7.0" y="366.2" transform="rotate(-90 7.0 366.2)" textLength="38.7" lengthAdjust="spacingAndGlyphs">Average Best-so-far</text>
<text class="c" text-anchor="middle" x="69.8" y="432.0">(p)</text>
</g>
<g>
<clipPath id="cp6"><rect x="230.1" y="323.7" width="103.7" height="85.4"/></clipPath>
<line class="m" x1="230.1" y1="404.2" x2="333.8" y2="404.2"/>
<line class="k" x1="333.8" y1="404.2" x2="333.2" y2="404.2" stroke-opacity="0.6"/>
<line class="m" x1="230.1" y1="400.3" x2="333.8" y2="400.3"/>
<line class="k" x1="333.8" y1="400.3" x2="333.2" y2="400.3" stroke-opacity="0.6"/>
<line class="m" x1="230.1" y1="396.4" x2="333.8" y2="396.4"/>
<line class="k" x1="333.8" y1="396.4" x2="333.2" y2="396.4" stroke-opacity="0.6"/>
<line class="m" x1="230.1" y1="388.6" x2="333.8" y2="388.6"/>
<line class="k" x1="333.8" y1="388.6" x2="333.2" y2="388.6" stroke-opacity="0.6"/>
<line class="m" x1="230.1" y1="384.8" x2="333.8" y2="384.8"/>
<line class="k" x1="333.8" y1="384.8" x2="333.2" y2="384.8" stroke-opacity="0.6"/>
<line class="m" x1="230.1" y1="381.0" x2="333.8" y2="381.0"/>
<line class="k" x1="333.8" y1="381.0" x2="333.2" y2="381.0" stroke-opacity="0.6"/>
<line class="m" x1="230.1" y1="373.4" x2="333.8" y2="373.4"/>
<line class="k" x1="333.8" y1="373.4" x2="333.2" y2="373.4" stroke-opacity="0.6"/>
<line class="m" x1="230.1" y1="369.7" x2="333.8" y2="369.7"/>
<line class="k" x1="333.8" y1="369.7" x2="333.2" y2="369.7" stroke-opacity="0.6"/>
<line class="m" x1="230.1" y1="366.0" x2="333.8" y2="366.0"/>
<line class="k" x1="333.8" y1="366.0" x2="333.2" y2="366.0" stroke-opacity="0.6"/>
<line class="m" x1="230.1" y1="358.7" x2="333.8" y2="358.7"/>
<line class="k" x1="333.8" y1="358.7" x2="333.2" y2="358.7" stroke-opacity="0.6"/>
<line class="m" x1="230.1" y1="355.1" x2="333.8" y2="355.1"/>
<line class="k" x1="333.8" y1="355.1" x2="333.2" y2="355.1" stroke-opacity="0.6"/>
<line class="m" x1="230.1" y1="351.5" x2="333.8" y2="351.5"/>
<line class="k" x1="333.8" y1="351.5" x2="333.2" y2="351.5" stroke-opacity="0.6"/>
<line class="m" x1="230.1" y1="344.4" x2="333.8" y2="344.4"/>
<line class="k" x1="333.8" y1="344.4" x2="333.2" y2="344.4" stroke-opacity="0.6"/>
<line class="m" x1="230.1" y1="340.9" x2="333.8" y2="340.9"/>
<line class="k" x1="333.8" y1="340.9" x2="333.2" y2="340.9" stroke-opacity="0.6"/>
<line class="m" x1="230.1" y1="337.4" x2="333.8" y2="337.4"/>
<line class="k" x1="333.8" y1="337.4" x2="333.2" y2="337.4" stroke-opacity="0.6"/>
<line class="m" x1="230.1" y1="330.5" x2="333.8" y2="330.5"/>
<line class="k" x1="333.8" y1="330.5" x2="333.2" y2="330.5" stroke-opacity="0.6"/>
<line class="m" x1="230.1" y1="327.0" x2="333.8" y2="327.0"/>
<line class="k" x1="333.8" y1="327.0" x2="333.2" y2="327.0" stroke-opacity="0.6"/>
<line class="g" x1="250.2" y1="323.7" x2="250.2" y2="409.1"/>
<line class="g" x1="271.1" y1="323.7" x2="271.1" y2="409.1"/>
<line class="g" x1="292.0" y1="323.7" x2="292.0" y2="409.1"/>
<line class="g" x1="312.9" y1="323.7" x2="312.9" y2="409.1"/>
<line class="g" x1="230.1" y1="333.9" x2="333.8" y2="333.9"/>
<line class="g" x1="230.1" y1="347.9" x2="333.8" y2="347.9"/>
<line class="g" x1="230.1" y1="362.4" x2="333.8" y2="362.4"/>
<line class="g" x1="230.1" y1="377.2" x2="333.8" y2="377.2"/>
<line class="g" x1="230.1" y1="392.5" x2="333.8" y2="392.5"/>
<line class="g" x1="230.1" y1="408.2" x2="333.8" y2="408.2"/>
<g clip-path="url(#cp6)">
<polyline stroke="#8a8a8a" stroke-width="0.67" points="230.4,323.7 230.7,360.0 232.6,367.3 235.8,368.9 250.6,369.4 333.8,370.3"/>
<polyline stroke="#bd6078" stroke-width="1.46" points="230.5,330.0 231.0,340.0 232.6,346.2 235.8,349.2 242.4,351.1 250.6,353.6 257.1,355.2 267.0,355.7 282.0,356.0 333.8,356.1"/>
<polyline stroke="#2c96fa" stroke-width="1.23" points="230.5,323.7 231.2,333.0 232.6,343.0 235.8,352.8 240.8,359.3 245.7,362.2 250.6,363.6 258.8,364.6 282.0,365.2 333.8,365.8"/>
<polyline stroke="#10dcea" stroke-width="1.12" points="230.5,323.7 231.5,340.0 233.0,347.0 237.5,352.8 242.4,358.5 247.3,361.8 253.9,364.8 262.1,367.3 271.9,369.4 278.5,371.4 282.0,372.0 293.0,374.0 333.8,374.5"/>
<polyline stroke="#48e455" stroke-width="1.01" points="230.4,323.7 231.0,355.0 233.4,368.1 242.4,369.8 260.4,370.1 262.1,373.4 287.6,373.4 293.0,374.2 333.8,374.4"/>
<polyline stroke="#ff8a18" stroke-width="1.12" points="230.5,323.7 231.0,336.0 233.4,349.5 236.7,356.9 238.3,359.9 242.4,364.0 250.6,366.8 262.1,368.4 282.0,369.7 296.0,371.5 333.8,373.0"/>
<polyline stroke="#ff1010" stroke-width="1.12" points="230.4,323.7 230.9,344.0 232.6,354.4 235.8,360.7 240.8,364.8 250.6,367.3 267.0,368.9 282.0,370.2 296.4,371.7 333.8,372.0"/>
<polyline stroke="#8a2ea4" stroke-width="1.12" points="230.4,323.7 230.8,358.0 232.6,364.8 235.8,367.3 242.4,368.1 258.8,368.9 282.0,369.6 333.8,369.8"/>
<polyline stroke="#1818f0" stroke-width="1.23" points="230.3,323.7 231.7,333.1 234.2,344.6 237.5,351.1 242.4,358.3 247.3,363.2 252.2,366.1 262.1,368.1 282.0,369.2 333.8,369.4"/>
<polyline stroke="#000000" stroke-width="1.49" points="230.4,323.7 230.7,361.0 232.6,367.3 235.8,368.9 250.6,369.4 282.0,369.8 333.8,369.9"/>
<polyline stroke="#ff2020" stroke-width="1.16" stroke-dasharray="2.5 2.1" points="230.8,343.0 231.0,356.0 232.6,368.1 235.0,378.0 238.3,386.1 242.4,391.9 247.3,396.0 253.9,399.6 256.8,400.6 265.2,402.8 276.4,404.2 296.0,404.8 333.8,405.1"/>
</g>
<rect class="ax" x="230.1" y="323.7" width="103.7" height="85.4"/>
<line class="k" x1="250.2" y1="409.1" x2="250.2" y2="408.0"/>
<line class="k" x1="250.2" y1="323.7" x2="250.2" y2="324.8"/>
<text class="t" text-anchor="middle" x="250.2" y="415.9" textLength="10.3" lengthAdjust="spacingAndGlyphs">1000</text>
<line class="k" x1="271.1" y1="409.1" x2="271.1" y2="408.0"/>
<line class="k" x1="271.1" y1="323.7" x2="271.1" y2="324.8"/>
<text class="t" text-anchor="middle" x="271.1" y="415.9" textLength="10.3" lengthAdjust="spacingAndGlyphs">2000</text>
<line class="k" x1="292.0" y1="409.1" x2="292.0" y2="408.0"/>
<line class="k" x1="292.0" y1="323.7" x2="292.0" y2="324.8"/>
<text class="t" text-anchor="middle" x="292.0" y="415.9" textLength="10.3" lengthAdjust="spacingAndGlyphs">3000</text>
<line class="k" x1="312.9" y1="409.1" x2="312.9" y2="408.0"/>
<line class="k" x1="312.9" y1="323.7" x2="312.9" y2="324.8"/>
<text class="t" text-anchor="middle" x="312.9" y="415.9" textLength="10.3" lengthAdjust="spacingAndGlyphs">4000</text>
<text class="t" text-anchor="middle" x="333.8" y="415.9" textLength="10.3" lengthAdjust="spacingAndGlyphs">5000</text>
<line class="k" x1="230.1" y1="333.9" x2="231.2" y2="333.9"/>
<line class="k" x1="333.8" y1="333.9" x2="332.7" y2="333.9"/>
<text class="t" text-anchor="end" x="228.0" y="335.9" textLength="10.2" lengthAdjust="spacingAndGlyphs">3700</text>
<line class="k" x1="230.1" y1="347.9" x2="231.2" y2="347.9"/>
<line class="k" x1="333.8" y1="347.9" x2="332.7" y2="347.9"/>
<text class="t" text-anchor="end" x="228.0" y="349.9" textLength="10.2" lengthAdjust="spacingAndGlyphs">3600</text>
<line class="k" x1="230.1" y1="362.4" x2="231.2" y2="362.4"/>
<line class="k" x1="333.8" y1="362.4" x2="332.7" y2="362.4"/>
<text class="t" text-anchor="end" x="228.0" y="364.4" textLength="10.2" lengthAdjust="spacingAndGlyphs">3500</text>
<line class="k" x1="230.1" y1="377.2" x2="231.2" y2="377.2"/>
<line class="k" x1="333.8" y1="377.2" x2="332.7" y2="377.2"/>
<text class="t" text-anchor="end" x="228.0" y="379.2" textLength="10.2" lengthAdjust="spacingAndGlyphs">3400</text>
<line class="k" x1="230.1" y1="392.5" x2="231.2" y2="392.5"/>
<line class="k" x1="333.8" y1="392.5" x2="332.7" y2="392.5"/>
<text class="t" text-anchor="end" x="228.0" y="394.5" textLength="10.2" lengthAdjust="spacingAndGlyphs">3300</text>
<line class="k" x1="230.1" y1="408.2" x2="231.2" y2="408.2"/>
<line class="k" x1="333.8" y1="408.2" x2="332.7" y2="408.2"/>
<text class="t" text-anchor="end" x="228.0" y="410.2" textLength="10.2" lengthAdjust="spacingAndGlyphs">3200</text>
<text class="b" text-anchor="middle" x="282.6" y="422.1" textLength="58.8" lengthAdjust="spacingAndGlyphs">Number of Function evaluations</text>
<text class="b" style="stroke-width:0.04" text-anchor="middle" x="215.5" y="366.0" transform="rotate(-90 215.5 366.0)" textLength="38.9" lengthAdjust="spacingAndGlyphs">Average Best-so-far</text>
<text class="c" text-anchor="middle" x="276.6" y="432.0">(q)</text>
</g>
<g>
<clipPath id="cp7"><rect x="24.4" y="436.8" width="102.2" height="85.0"/></clipPath>
<line class="m" x1="24.4" y1="520.3" x2="126.6" y2="520.3"/>
<line class="k" x1="126.6" y1="520.3" x2="126.0" y2="520.3" stroke-opacity="0.6"/>
<line class="m" x1="24.4" y1="517.2" x2="126.6" y2="517.2"/>
<line class="k" x1="126.6" y1="517.2" x2="126.0" y2="517.2" stroke-opacity="0.6"/>
<line class="m" x1="24.4" y1="514.1" x2="126.6" y2="514.1"/>
<line class="k" x1="126.6" y1="514.1" x2="126.0" y2="514.1" stroke-opacity="0.6"/>
<line class="m" x1="24.4" y1="507.9" x2="126.6" y2="507.9"/>
<line class="k" x1="126.6" y1="507.9" x2="126.0" y2="507.9" stroke-opacity="0.6"/>
<line class="m" x1="24.4" y1="504.9" x2="126.6" y2="504.9"/>
<line class="k" x1="126.6" y1="504.9" x2="126.0" y2="504.9" stroke-opacity="0.6"/>
<line class="m" x1="24.4" y1="501.8" x2="126.6" y2="501.8"/>
<line class="k" x1="126.6" y1="501.8" x2="126.0" y2="501.8" stroke-opacity="0.6"/>
<line class="m" x1="24.4" y1="498.8" x2="126.6" y2="498.8"/>
<line class="k" x1="126.6" y1="498.8" x2="126.0" y2="498.8" stroke-opacity="0.6"/>
<line class="m" x1="24.4" y1="492.7" x2="126.6" y2="492.7"/>
<line class="k" x1="126.6" y1="492.7" x2="126.0" y2="492.7" stroke-opacity="0.6"/>
<line class="m" x1="24.4" y1="489.7" x2="126.6" y2="489.7"/>
<line class="k" x1="126.6" y1="489.7" x2="126.0" y2="489.7" stroke-opacity="0.6"/>
<line class="m" x1="24.4" y1="486.7" x2="126.6" y2="486.7"/>
<line class="k" x1="126.6" y1="486.7" x2="126.0" y2="486.7" stroke-opacity="0.6"/>
<line class="m" x1="24.4" y1="483.7" x2="126.6" y2="483.7"/>
<line class="k" x1="126.6" y1="483.7" x2="126.0" y2="483.7" stroke-opacity="0.6"/>
<line class="m" x1="24.4" y1="477.7" x2="126.6" y2="477.7"/>
<line class="k" x1="126.6" y1="477.7" x2="126.0" y2="477.7" stroke-opacity="0.6"/>
<line class="m" x1="24.4" y1="474.8" x2="126.6" y2="474.8"/>
<line class="k" x1="126.6" y1="474.8" x2="126.0" y2="474.8" stroke-opacity="0.6"/>
<line class="m" x1="24.4" y1="471.8" x2="126.6" y2="471.8"/>
<line class="k" x1="126.6" y1="471.8" x2="126.0" y2="471.8" stroke-opacity="0.6"/>
<line class="m" x1="24.4" y1="468.8" x2="126.6" y2="468.8"/>
<line class="k" x1="126.6" y1="468.8" x2="126.0" y2="468.8" stroke-opacity="0.6"/>
<line class="m" x1="24.4" y1="463.0" x2="126.6" y2="463.0"/>
<line class="k" x1="126.6" y1="463.0" x2="126.0" y2="463.0" stroke-opacity="0.6"/>
<line class="m" x1="24.4" y1="460.0" x2="126.6" y2="460.0"/>
<line class="k" x1="126.6" y1="460.0" x2="126.0" y2="460.0" stroke-opacity="0.6"/>
<line class="m" x1="24.4" y1="457.1" x2="126.6" y2="457.1"/>
<line class="k" x1="126.6" y1="457.1" x2="126.0" y2="457.1" stroke-opacity="0.6"/>
<line class="m" x1="24.4" y1="454.2" x2="126.6" y2="454.2"/>
<line class="k" x1="126.6" y1="454.2" x2="126.0" y2="454.2" stroke-opacity="0.6"/>
<line class="m" x1="24.4" y1="448.4" x2="126.6" y2="448.4"/>
<line class="k" x1="126.6" y1="448.4" x2="126.0" y2="448.4" stroke-opacity="0.6"/>
<line class="m" x1="24.4" y1="445.5" x2="126.6" y2="445.5"/>
<line class="k" x1="126.6" y1="445.5" x2="126.0" y2="445.5" stroke-opacity="0.6"/>
<line class="m" x1="24.4" y1="442.6" x2="126.6" y2="442.6"/>
<line class="k" x1="126.6" y1="442.6" x2="126.0" y2="442.6" stroke-opacity="0.6"/>
<line class="m" x1="24.4" y1="439.8" x2="126.6" y2="439.8"/>
<line class="k" x1="126.6" y1="439.8" x2="126.0" y2="439.8" stroke-opacity="0.6"/>
<line class="g" x1="44.3" y1="436.8" x2="44.3" y2="521.8"/>
<line class="g" x1="64.9" y1="436.8" x2="64.9" y2="521.8"/>
<line class="g" x1="85.5" y1="436.8" x2="85.5" y2="521.8"/>
<line class="g" x1="106.0" y1="436.8" x2="106.0" y2="521.8"/>
<line class="g" x1="24.4" y1="451.3" x2="126.6" y2="451.3"/>
<line class="g" x1="24.4" y1="465.9" x2="126.6" y2="465.9"/>
<line class="g" x1="24.4" y1="480.7" x2="126.6" y2="480.7"/>
<line class="g" x1="24.4" y1="495.8" x2="126.6" y2="495.8"/>
<line class="g" x1="24.4" y1="511.0" x2="126.6" y2="511.0"/>
<g clip-path="url(#cp7)">
<polyline stroke="#8a8a8a" stroke-width="0.67" points="24.8,437.0 25.5,475.0 26.5,481.5 31.4,491.3 36.3,496.2 42.9,501.1 49.4,505.2 60.8,507.7 76.0,508.7 88.3,511.1 104.7,513.6 117.8,515.2 126.6,516.0"/>
<polyline stroke="#bd6078" stroke-width="1.46" points="25.7,437.0 27.3,446.1 29.8,451.8 33.1,453.4 36.3,457.5 41.2,460.8 49.4,462.4 52.7,464.3 62.4,465.3 70.6,466.8 76.0,467.0 126.6,467.0"/>
<polyline stroke="#ff1010" stroke-width="1.23" points="25.7,437.0 27.3,449.3 31.4,455.9 36.3,460.0 41.2,464.0 47.8,467.3 52.7,471.4 59.2,473.0 67.3,475.1 72.0,476.3 76.9,478.0 91.7,479.3 94.1,480.9 104.8,482.0 114.6,482.9 126.6,482.9"/>
<polyline stroke="#48e455" stroke-width="1.01" points="24.9,437.0 26.0,478.0 29.8,484.0 34.7,486.4 44.5,488.4 60.8,489.4 76.0,489.8 88.4,489.9 91.7,491.0 121.2,491.0 124.5,492.4 126.6,492.6"/>
<polyline stroke="#8a2ea4" stroke-width="1.12" points="24.9,437.0 26.9,459.1 29.0,475.0 31.4,481.5 36.3,485.6 44.5,488.1 55.9,490.5 69.0,492.6 76.0,493.0 96.5,496.4 112.8,499.4 126.6,501.3"/>
<polyline stroke="#ff8a18" stroke-width="1.23" points="25.7,437.0 28.2,457.5 30.6,472.2 31.8,475.0 34.7,483.2 39.6,490.5 44.5,494.3 51.0,496.2 60.8,497.9 72.0,498.9 104.7,499.7 126.6,500.5"/>
<polyline stroke="#2c96fa" stroke-width="1.23" points="27.4,437.0 29.8,455.9 33.1,470.6 35.6,475.0 38.0,481.5 41.2,489.7 46.1,495.4 52.7,497.9 62.4,499.5 76.0,501.0 100.0,502.2 109.6,505.6 126.6,506.2"/>
<polyline stroke="#1818f0" stroke-width="1.23" points="26.5,437.0 29.0,452.6 31.4,465.7 33.4,475.0 36.3,483.2 39.6,489.7 44.5,496.2 49.4,499.2 57.6,500.8 69.0,501.9 76.0,502.5 104.7,504.3 126.6,504.9"/>
<polyline stroke="#10dcea" stroke-width="1.12" points="29.0,437.0 30.6,449.3 33.1,460.8 36.3,468.9 39.6,475.0 42.0,481.5 46.1,486.4 52.7,490.5 59.2,494.6 65.7,499.5 72.2,504.4 76.9,508.7 85.0,510.3 104.7,511.4 126.6,511.9"/>
<polyline stroke="#000000" stroke-width="1.38" points="24.8,437.0 25.7,475.0 27.3,484.8 29.8,493.0 33.1,497.9 38.0,501.9 44.5,504.7 52.7,506.0 65.7,506.8 76.0,507.7 126.6,508.1"/>
<polyline stroke="#ff2020" stroke-width="1.16" stroke-dasharray="2.5 2.1" points="24.8,437.0 26.5,483.0 29.0,491.3 32.2,499.5 38.0,505.2 44.5,509.3 52.7,512.6 62.4,515.5 72.0,516.8 80.2,518.4 91.6,519.7 104.7,520.5 126.6,521.2"/>
</g>
<rect class="ax" x="24.4" y="436.8" width="102.2" height="85.0"/>
<line class="k" x1="44.3" y1="521.8" x2="44.3" y2="520.7"/>
<line class="k" x1="44.3" y1="436.8" x2="44.3" y2="437.9"/>
<text class="t" text-anchor="middle" x="44.3" y="528.5" textLength="10.3" lengthAdjust="spacingAndGlyphs">1000</text>
<line class="k" x1="64.9" y1="521.8" x2="64.9" y2="520.7"/>
<line class="k" x1="64.9" y1="436.8" x2="64.9" y2="437.9"/>
<text class="t" text-anchor="middle" x="64.9" y="528.5" textLength="10.3" lengthAdjust="spacingAndGlyphs">2000</text>
<line class="k" x1="85.5" y1="521.8" x2="85.5" y2="520.7"/>
<line class="k" x1="85.5" y1="436.8" x2="85.5" y2="437.9"/>
<text class="t" text-anchor="middle" x="85.5" y="528.5" textLength="10.3" lengthAdjust="spacingAndGlyphs">3000</text>
<line class="k" x1="106.0" y1="521.8" x2="106.0" y2="520.7"/>
<line class="k" x1="106.0" y1="436.8" x2="106.0" y2="437.9"/>
<text class="t" text-anchor="middle" x="106.0" y="528.5" textLength="10.3" lengthAdjust="spacingAndGlyphs">4000</text>
<text class="t" text-anchor="middle" x="126.6" y="528.5" textLength="10.3" lengthAdjust="spacingAndGlyphs">5000</text>
<text class="t" text-anchor="end" x="22.3" y="438.9" textLength="10.2" lengthAdjust="spacingAndGlyphs">3550</text>
<line class="k" x1="24.4" y1="451.3" x2="25.5" y2="451.3"/>
<line class="k" x1="126.6" y1="451.3" x2="125.5" y2="451.3"/>
<text class="t" text-anchor="end" x="22.3" y="453.3" textLength="10.2" lengthAdjust="spacingAndGlyphs">3500</text>
<line class="k" x1="24.4" y1="465.9" x2="25.5" y2="465.9"/>
<line class="k" x1="126.6" y1="465.9" x2="125.5" y2="465.9"/>
<text class="t" text-anchor="end" x="22.3" y="467.9" textLength="10.2" lengthAdjust="spacingAndGlyphs">3450</text>
<line class="k" x1="24.4" y1="480.7" x2="25.5" y2="480.7"/>
<line class="k" x1="126.6" y1="480.7" x2="125.5" y2="480.7"/>
<text class="t" text-anchor="end" x="22.3" y="482.7" textLength="10.2" lengthAdjust="spacingAndGlyphs">3400</text>
<line class="k" x1="24.4" y1="495.8" x2="25.5" y2="495.8"/>
<line class="k" x1="126.6" y1="495.8" x2="125.5" y2="495.8"/>
<text class="t" text-anchor="end" x="22.3" y="497.8" textLength="10.2" lengthAdjust="spacingAndGlyphs">3350</text>
<line class="k" x1="24.4" y1="511.0" x2="25.5" y2="511.0"/>
<line class="k" x1="126.6" y1="511.0" x2="125.5" y2="511.0"/>
<text class="t" text-anchor="end" x="22.3" y="513.0" textLength="10.2" lengthAdjust="spacingAndGlyphs">3300</text>
<text class="b" text-anchor="middle" x="76.1" y="534.8" textLength="57.9" lengthAdjust="spacingAndGlyphs">Number of Function evaluations</text>
<text class="b" style="stroke-width:0.04" text-anchor="middle" x="10.8" y="478.9" transform="rotate(-90 10.8 478.9)" textLength="38.7" lengthAdjust="spacingAndGlyphs">Average Best-so-far</text>
<text class="c" text-anchor="middle" x="69.5" y="544.3">(r)</text>
</g>
</svg>
</body></html>
